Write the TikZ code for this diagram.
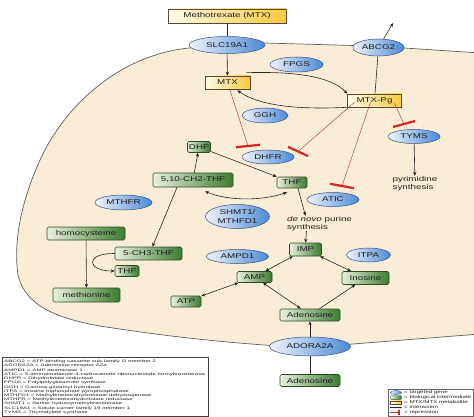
\documentclass[tikz,border=0pt]{standalone}
\usepackage{fontspec}
\setmainfont{Liberation Sans}[FakeStretch=1.4]
\usepackage{graphicx}
\usetikzlibrary{arrows.meta,shapes.geometric,calc}
\definecolor{cellbg}{HTML}{FAEDD8}
\definecolor{cellbd}{HTML}{5E5E5E}
\definecolor{genel}{HTML}{F2F2FB}
\definecolor{gener}{HTML}{4A8AD6}
\definecolor{genebd}{HTML}{35527F}
\definecolor{biol}{HTML}{E9F0DE}
\definecolor{bior}{HTML}{3C7B31}
\definecolor{biobd}{HTML}{2C4A29}
\definecolor{mtxl}{HTML}{FFFCEA}
\definecolor{mtxr}{HTML}{F6C93F}
\definecolor{mtxbd}{HTML}{5A4A30}
\definecolor{inhl}{HTML}{B24A40}
\definecolor{inhb}{HTML}{D62828}
\definecolor{txt}{HTML}{1E1E1E}
\tikzset{
  gene/.style={ellipse, draw=genebd, line width=0.5pt, left color=genel, right color=gener, inner sep=0pt, text=txt},
  bio/.style={rectangle, rounded corners=1.5pt, draw=biobd, line width=0.6pt, left color=biol, right color=bior, inner sep=0pt, text=txt},
  mtxs/.style={rectangle, draw=mtxbd, line width=0.6pt, left color=mtxl, right color=mtxr, inner sep=0pt, text=txt},
  plain/.style={inner sep=0pt, text=txt, align=left},
  arr/.style={draw=black!85, line width=0.6pt, -{Stealth[length=4pt,width=3.4pt]}},
  darr/.style={draw=black!85, line width=0.6pt, {Stealth[length=4pt,width=3.4pt]}-{Stealth[length=4pt,width=3.4pt]}},
  link/.style={draw=black!85, line width=0.6pt},
  inh/.style={draw=inhl, line width=0.5pt},
  inhbar/.style={draw=inhb, line width=2.2pt},
}
\begin{document}
\begin{tikzpicture}[x=1pt,y=-1pt,font=\fontsize{7}{8.4}\selectfont]
\useasboundingbox (0,0) rectangle (474,417);
\begin{scope}
\clip (0,0) rectangle (474,417);
\fill[cellbg] (480,53) -- (404,48) -- (353,45.5) -- (265,43) -- (189,48)
  .. controls (120,55) and (65,105) .. (40,160)
  .. controls (22,200) and (13,240) .. (18,275)
  .. controls (25,305) and (55,318) .. (100,326)
  .. controls (170,337) and (230,343) .. (280,346)
  -- (340,345) -- (480,334) -- cycle;
\draw[cellbd, line width=0.7pt] (480,53) -- (404,48) -- (353,45.5) -- (265,43) -- (189,48)
  .. controls (120,55) and (65,105) .. (40,160)
  .. controls (22,200) and (13,240) .. (18,275)
  .. controls (25,305) and (55,318) .. (100,326)
  .. controls (170,337) and (230,343) .. (280,346)
  -- (340,345) -- (480,334);
\end{scope}

% MTX nodes
\node[mtxs, minimum width=118pt, minimum height=14pt] (MTXext) at (227,16) {Methotrexate (MTX)};
\node[mtxs, minimum width=45pt, minimum height=13pt] (MTX) at (227.5,82.5) {MTX};
\node[mtxs, minimum width=54pt, minimum height=13pt] (MTXPg) at (374.5,100.5) {MTX-Pg};

% genes
\node[gene, minimum width=76pt, minimum height=17pt] (SLC) at (227,45) {SLC19A1};
\node[gene, minimum width=51pt, minimum height=17pt] (ABCG) at (378.5,47.5) {ABCG2};
\node[gene, minimum width=53pt, minimum height=15pt] (FPGS) at (296.5,64.5) {FPGS};
\node[gene, minimum width=46pt, minimum height=15pt] (GGH) at (265,115.5) {GGH};
\node[gene, minimum width=52pt, minimum height=14pt] (DHFR) at (268,157) {DHFR};
\node[gene, minimum width=52pt, minimum height=14pt] (TYMS) at (414,136.5) {TYMS};
\node[gene, minimum width=52pt, minimum height=14pt] (ATIC) at (333,199.5) {ATIC};
\node[gene, minimum width=57pt, minimum height=15pt] (MTHFR) at (123.5,202.5) {MTHFR};
\node[gene, minimum width=64pt, minimum height=24pt, align=center] (SHMT) at (237.5,216.5) {SHMT1/\\MTHFD1};
\node[gene, minimum width=62pt, minimum height=14pt] (AMPD) at (237.5,256.5) {AMPD1};
\node[gene, minimum width=44pt, minimum height=14pt] (ITPA) at (368.5,255) {ITPA};
\node[gene, minimum width=81pt, minimum height=19pt] (ADORA) at (310,346.5) {ADORA2A};

% biological intermediates
\node[bio, minimum width=23pt, minimum height=11pt] (DHF) at (199,147) {DHF};
\node[bio, minimum width=80pt, minimum height=14pt] (CH2) at (193,180) {5,10-CH2-THF};
\node[bio, minimum width=30pt, minimum height=11pt] (THF) at (292,182.5) {THF};
\node[bio, minimum width=78pt, minimum height=13pt] (HCY) at (86,233.5) {homocysteine};
\node[bio, minimum width=67pt, minimum height=13pt] (CH3) at (148.5,253.5) {5-CH3-THF};
\node[bio, minimum width=24pt, minimum height=11pt] (THFb) at (127,271) {THF};
\node[bio, minimum width=67pt, minimum height=14pt] (MET) at (86.5,295) {methionine};
\node[bio, minimum width=32pt, minimum height=13pt] (IMP) at (305.5,249.5) {IMP};
\node[bio, minimum width=35pt, minimum height=11pt] (AMP) at (254.5,277) {AMP};
\node[bio, minimum width=30pt, minimum height=11pt] (ATP) at (186,301.5) {ATP};
\node[bio, minimum width=47pt, minimum height=13pt] (INO) at (365.5,278) {Inosine};
\node[bio, minimum width=60pt, minimum height=12pt] (ADOi) at (310,315) {Adenosine};
\node[bio, minimum width=60pt, minimum height=12pt] (ADOo) at (310,380.5) {Adenosine};

% texts
\node[plain] (PYR) at (415,183.5) {pyrimidine\\synthesis};
\node[plain] (DNV) at (319.5,223.5) {{\itshape de novo} purine\\synthesis};

% transport / metabolism connectors
\draw[link] (MTXext) -- (SLC);
\draw[arr] (SLC) -- (MTX);
\draw[arr] ([xshift=-4pt,yshift=3pt]MTX.north east) .. controls (300,71) and (333,78) .. (MTXPg.north west);
\draw[arr] (MTXPg.south west) .. controls (295,110) and (258,105) .. ([xshift=-13pt,yshift=-1pt]MTX.south east);
\draw[link] (MTXPg) -- (ABCG);
\coordinate (OUT) at (393,23);
\draw[arr] (ABCG) -- (OUT);
\draw[arr] (TYMS) -- (PYR);

\draw[arr] (CH2) -- (DHF);
\draw[arr] (DHF) -- (THF);
\draw[darr] ([xshift=12pt,yshift=-4pt]CH2.south) .. controls (228,201) and (262,201) .. ([xshift=-5pt,yshift=-4pt]THF.south);
\draw[arr] ([xshift=-16pt]CH2.south) -- ([xshift=4pt]CH3.north);
\draw[arr] (CH3.west) .. controls (85,253) and (86,271) .. (THFb.west);
\draw[arr] (HCY) -- (MET);
\draw[arr] ([xshift=6pt]THF.south) -- ([xshift=-14pt]DNV.north);
\draw[arr] ([xshift=-13pt]DNV.south) -- (IMP.north);

\draw[darr] (IMP) -- (AMP);
\draw[darr] (AMP) -- (ATP);
\draw[darr] (IMP) -- (INO);
\draw[darr] (AMP) -- (ADOi);
\draw[arr] (ADOi) -- (INO);
\draw[arr] (ADORA) -- (ADOi);
\draw[link] (ADOo) -- (ADORA);

% repression
\coordinate (B1) at (248,146);
\coordinate (B2) at (298,151.5);
\coordinate (B3) at (342,186);
\coordinate (B4) at (404,124);
\draw[inh] (MTX) -- (B1);
\draw[inh] ([xshift=-20pt,yshift=5pt]MTXPg.south) -- (B2);
\draw[inh] ([xshift=-4pt,yshift=5pt]MTXPg.south) -- (B3);
\draw[inh] ([xshift=20pt,yshift=4pt]MTXPg.south) -- (B4);
\draw[inhbar] ($(B1)+(-12,1.2)$) -- ($(B1)+(12,-1.2)$);
\draw[inhbar] ($(B2)+(-10,-4.6)$) -- ($(B2)+(10,4.6)$);
\draw[inhbar] ($(B3)+(-12,-2.2)$) -- ($(B3)+(12,2.2)$);
\draw[inhbar] ($(B4)+(-11,3)$) -- ($(B4)+(11,-3)$);

% legend left
\draw[black!75, line width=0.6pt] (2.5,357.5) rectangle (208.5,416.5);
\node[anchor=north west, inner sep=0pt, text=txt] (LEGL) at (4,359.5) {\resizebox*{201pt}{55pt}{\begin{tabular}{@{}l@{}}
ABCG2 = ATP-binding cassette sub-family G member 2\\
ADORA2A = Adenosine receptor A2a\\
AMPD1 = AMP deaminase 1\\
ATIC = 5-aminoimidazole-4-carboxamide ribonucleotide formyltransferase\\
DHFR = Dihydrofolate reductase\\
FPGS = Folylpolyglutamate synthase\\
GGH = Gamma-glutamyl hydrolase\\
ITPA = Inosine triphosphate pyrophosphatase\\
MTHFD1 = Methylenetetrahydrofolate dehydrogenase\\
MTHFR = Methylenetetrahydrofolate reductase\\
SHMT1 = Serine hydroxymethyltransferase\\
SLC19A1 = Solute carrier family 19 member 1\\
TYMS = Thymidylate synthase
\end{tabular}}};

% legend right
\draw[black!60, line width=0.5pt] (388.5,389.5) rectangle (473.5,416.5);
\node[gene, minimum width=11pt, minimum height=4pt, line width=0.4pt] (LG1) at (396,392.5) {};
\node[bio, minimum width=11pt, minimum height=3.6pt, rounded corners=0.6pt, line width=0.4pt] (LG2) at (396,397.5) {};
\node[mtxs, minimum width=11pt, minimum height=3.6pt, line width=0.4pt] (LG3) at (396,402.5) {};
\coordinate (LA1) at (390,407.5);
\coordinate (LA2) at (402,407.5);
\draw[black!85, line width=0.4pt, -{Stealth[length=2.4pt,width=2pt]}] (LA1) -- (LA2);
\coordinate (LR1) at (390,412.5);
\coordinate (LR2) at (399,412.5);
\draw[inhl, line width=0.4pt] (LR1) -- (LR2);
\draw[inhb, line width=1.3pt] (399,410) -- (399,415);
\node[anchor=north west, inner sep=0pt, text=txt] (LEGR) at (404,390) {\resizebox*{67pt}{25pt}{\begin{tabular}{@{}l@{}}
= targeted gene\\
= biological intermediate\\
= MTX/MTX metabolite\\
= interaction\\
= repression
\end{tabular}}};
\end{tikzpicture}
\end{document}
